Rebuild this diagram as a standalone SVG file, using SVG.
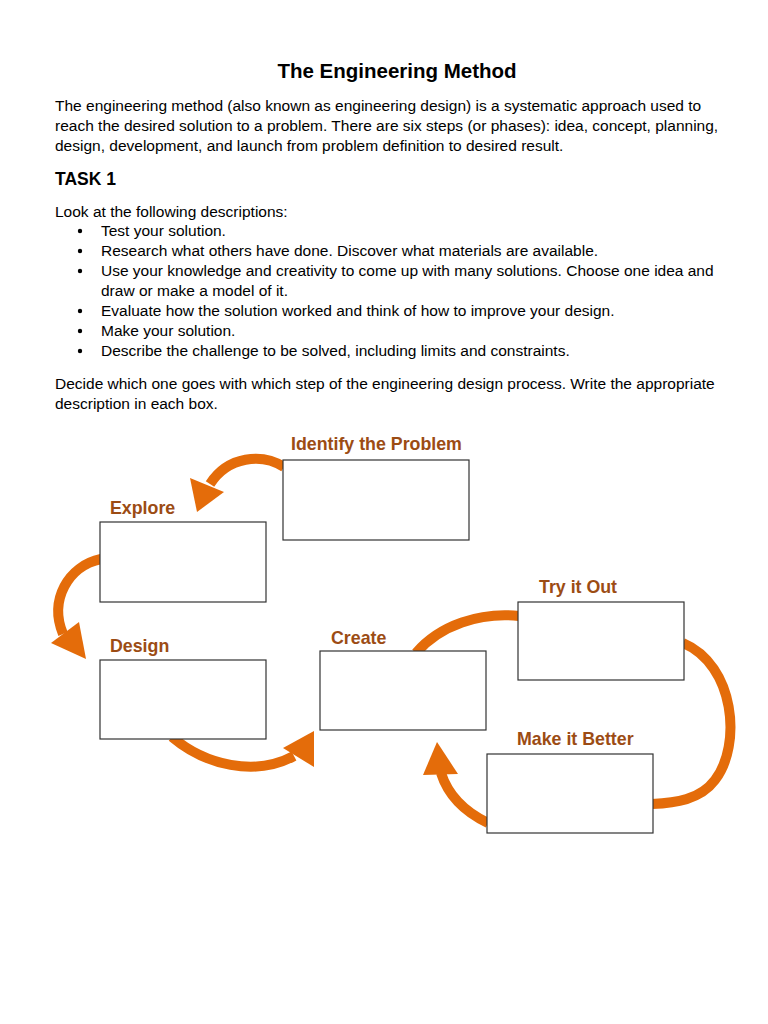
<svg xmlns="http://www.w3.org/2000/svg" width="768" height="1024" viewBox="0 0 768 1024">
<style>
.t{font-family:"Liberation Sans",Arial,sans-serif;font-size:15.5px;fill:#000}
.h{font-family:"Liberation Sans",Arial,sans-serif;font-weight:bold;fill:#000}
.lbl{font-family:"Liberation Sans",Arial,sans-serif;font-weight:bold;font-size:17.8px;fill:#9c4c14}
.box{fill:#fff;stroke:#333;stroke-width:1.2}
.arc{fill:none;stroke:#e46c0a;stroke-width:10}
.head{fill:#e46c0a}
</style>
<rect width="768" height="1024" fill="#fff"/>
<text class="h" x="397" y="78" font-size="20.5" text-anchor="middle">The Engineering Method</text>
<text class="t" x="55" y="111">The engineering method (also known as engineering design) is a systematic approach used to</text>
<text class="t" x="55" y="131">reach the desired solution to a problem. There are six steps (or phases): idea, concept, planning,</text>
<text class="t" x="55" y="151">design, development, and launch from problem definition to desired result.</text>
<text class="h" x="55" y="185" font-size="17.5">TASK 1</text>
<text class="t" x="55" y="217">Look at the following descriptions:</text>
<g fill="#000">
<circle cx="80" cy="231" r="2.2"/><circle cx="80" cy="251" r="2.2"/><circle cx="80" cy="271" r="2.2"/>
<circle cx="80" cy="311" r="2.2"/><circle cx="80" cy="331" r="2.2"/><circle cx="80" cy="351" r="2.2"/>
</g>
<text class="t" x="101" y="236">Test your solution.</text>
<text class="t" x="101" y="256">Research what others have done. Discover what materials are available.</text>
<text class="t" x="101" y="276">Use your knowledge and creativity to come up with many solutions. Choose one idea and</text>
<text class="t" x="101" y="296">draw or make a model of it.</text>
<text class="t" x="101" y="316">Evaluate how the solution worked and think of how to improve your design.</text>
<text class="t" x="101" y="336">Make your solution.</text>
<text class="t" x="101" y="356">Describe the challenge to be solved, including limits and constraints.</text>
<text class="t" x="55" y="389">Decide which one goes with which step of the engineering design process. Write the appropriate</text>
<text class="t" x="55" y="409">description in each box.</text>

<g id="connectors">
<path class="arc" d="M284,467 C262,453 228,456 210,484"/>
<polygon class="head" points="190,478 224,492 197,512"/>
<path class="arc" d="M101,559 C68,566 49,600 63,634"/>
<polygon class="head" points="51,643 79,622 86,659"/>
<path class="arc" d="M172,737 C205,765 255,777 294,756"/>
<polygon class="head" points="283,748 314,767 314,731"/>
<path class="arc" d="M488,823 C465,812 448,795 441,773"/>
<polygon class="head" points="423,775 458,774 437,742"/>
<path class="arc" d="M416,653 C440,625 480,612 519,616"/>
<path class="arc" d="M683,643 C735,665 742,745 715,780 C700,800 675,803 652,804"/>
</g>

<g id="identify"><rect class="box" x="283" y="460" width="186" height="80"/><text class="lbl" x="291" y="450">Identify the Problem</text></g>
<g id="explore"><rect class="box" x="100" y="522" width="166" height="80"/><text class="lbl" x="110" y="514">Explore</text></g>
<g id="design"><rect class="box" x="100" y="660" width="166" height="79"/><text class="lbl" x="110" y="652">Design</text></g>
<g id="create"><rect class="box" x="320" y="651" width="166" height="79"/><text class="lbl" x="331" y="644">Create</text></g>
<g id="tryitout"><rect class="box" x="518" y="602" width="166" height="78"/><text class="lbl" x="539" y="593">Try it Out</text></g>
<g id="makeitbetter"><rect class="box" x="487" y="754" width="166" height="79"/><text class="lbl" x="517" y="745">Make it Better</text></g>
</svg>
